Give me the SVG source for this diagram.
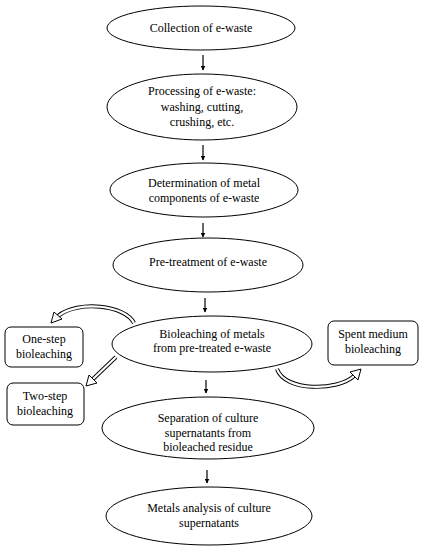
<svg xmlns="http://www.w3.org/2000/svg" width="423" height="550" viewBox="0 0 423 550">
<style>
.n ellipse,.n rect{fill:#fff;stroke:#000;stroke-width:1}
.t text{font-family:'Times New Roman','Liberation Serif',serif;font-size:12px;fill:#000;text-anchor:middle}
.c line{stroke:#000;stroke-width:1.2}
.h{fill:none;stroke:#000;stroke-width:4}
.hi{fill:none;stroke:#fff;stroke-width:2.2}
.hh{fill:#fff;stroke:#000;stroke-width:1}
</style>
<defs>
<marker id="a" viewBox="0 0 10 10" refX="9" refY="5" markerWidth="5" markerHeight="5" orient="auto" markerUnits="userSpaceOnUse">
<path d="M0,0L10,5L0,10z" fill="#000"/>
</marker>
</defs>
<rect width="423" height="550" fill="#fff"/>
<g class="c">
<line x1="203" y1="55" x2="203" y2="70" marker-end="url(#a)"/>
<line x1="203" y1="145" x2="203" y2="160" marker-end="url(#a)"/>
<line x1="203" y1="223" x2="203" y2="237" marker-end="url(#a)"/>
<line x1="205" y1="298" x2="205" y2="312" marker-end="url(#a)"/>
<line x1="206" y1="380" x2="206" y2="393" marker-end="url(#a)"/>
<line x1="207" y1="470" x2="207" y2="483" marker-end="url(#a)"/>
<path class="h" d="M134,323 C125,305 78,300 58,316"/>
<path class="hi" d="M134,323 C125,305 78,300 58,316"/>
<path class="hh" d="M51,323 L54,312 L62,319 Z"/>
<path class="h" d="M116,357 L92,380"/>
<path class="hi" d="M116,357 L92,380"/>
<path class="hh" d="M86,386 L89,375 L97,383 Z"/>
<path class="h" d="M277,369 C285,392 338,391 354,376"/>
<path class="hi" d="M277,369 C285,392 338,391 354,376"/>
<path class="hh" d="M361,369 L350,372 L358,380 Z"/>
</g>
<g class="t" font-family="'Times New Roman','Liberation Serif',serif">
<g id="n1" class="n"><ellipse cx="201" cy="28" rx="94" ry="22"/><text x="201" y="32">Collection of e-waste</text></g>
<g id="n2" class="n"><ellipse cx="202" cy="107" rx="95" ry="33"/><text x="202" y="95">Processing of e-waste:</text><text x="202" y="111">washing, cutting,</text><text x="202" y="126">crushing, etc.</text></g>
<g id="n3" class="n"><ellipse cx="204" cy="190" rx="94" ry="27"/><text x="204" y="187">Determination of metal</text><text x="204" y="202">components of e-waste</text></g>
<g id="n4" class="n"><ellipse cx="208" cy="265" rx="95" ry="27"/><text x="208" y="266">Pre-treatment of e-waste</text></g>
<g id="n5" class="n"><ellipse cx="212" cy="344" rx="100" ry="28"/><text x="212" y="338">Bioleaching of metals</text><text x="212" y="352">from pre-treated e-waste</text></g>
<g id="n6" class="n"><rect x="5" y="327" width="78" height="40" rx="6"/><text x="44" y="343">One-step</text><text x="44" y="358">bioleaching</text></g>
<g id="n7" class="n"><rect x="7" y="383" width="77" height="42" rx="6"/><text x="45" y="400">Two-step</text><text x="45" y="415">bioleaching</text></g>
<g id="n8" class="n"><rect x="328" y="321" width="90" height="44" rx="6"/><text x="373" y="338">Spent medium</text><text x="373" y="353">bioleaching</text></g>
<g id="n9" class="n"><ellipse cx="208" cy="428" rx="106" ry="31"/><text x="208" y="422">Separation of culture</text><text x="208" y="437">supernatants from</text><text x="208" y="451">bioleached residue</text></g>
<g id="n10" class="n"><ellipse cx="209" cy="516" rx="103" ry="29"/><text x="209" y="512">Metals analysis of culture</text><text x="209" y="527">supernatants</text></g>
</g>
</svg>
